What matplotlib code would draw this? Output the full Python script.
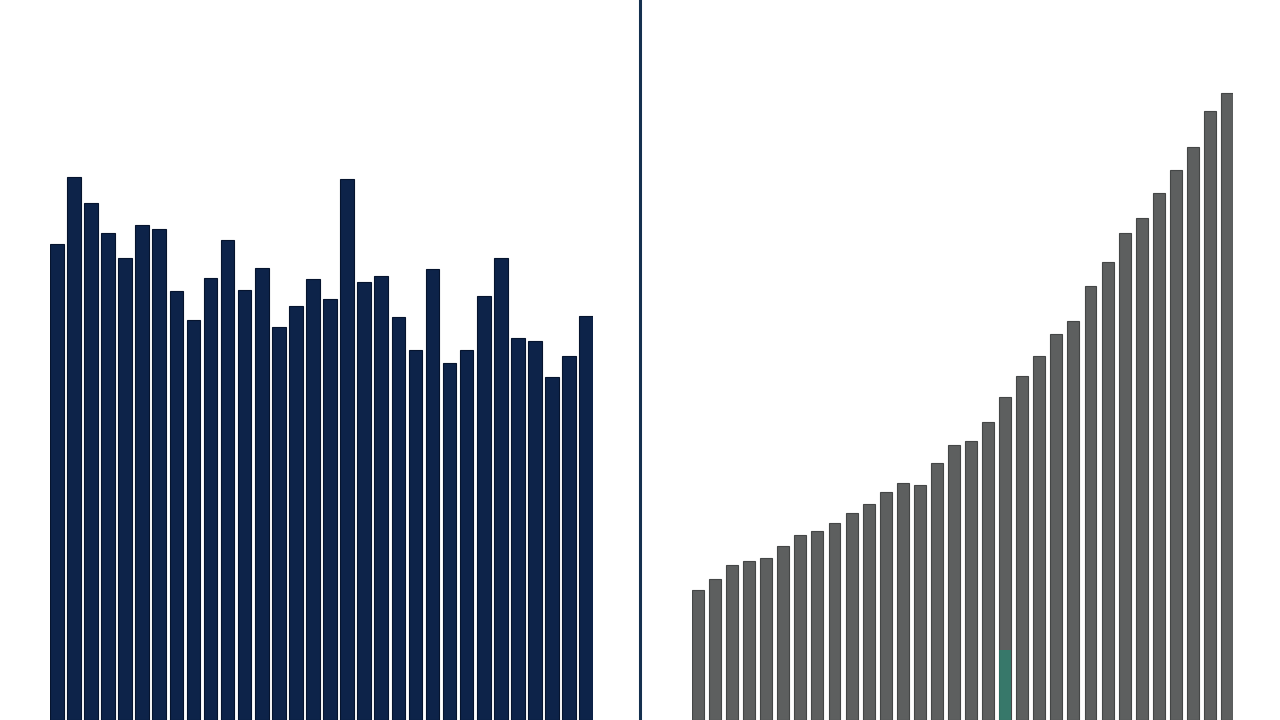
import numpy as np
import matplotlib.pyplot as plt
from matplotlib.lines import Line2D

# bar heights (pixel units above the bottom edge)
left_values = [476, 543, 517, 487, 462, 495, 491, 429, 400, 442, 480, 430,
               452, 393, 414, 441, 421, 541, 438, 444, 403, 370, 451, 357,
               370, 424, 462, 382, 379, 343, 364, 404]
right_values = [130, 141, 155, 159, 162, 174, 185, 189, 197, 207, 216, 228,
                237, 235, 257, 275, 279, 298, 323, 344, 364, 386, 399, 434,
                458, 487, 502, 527, 550, 573, 609, 627]
# faint teal patch at the foot of one grey bar
highlight_index = 18
highlight_value = 70

NAVY = '#0d2349'
GREY = '#5d5f5f'

W, H = 1280, 720
fig = plt.figure(figsize=(12.8, 7.2), dpi=100)
fig.patch.set_facecolor('white')

# left panel
ax_l = fig.add_axes([50 / W, 0, (593 - 50) / W, 1])
x_l = np.arange(len(left_values))
ax_l.bar(x_l, left_values, width=0.8, color=NAVY, edgecolor='#06142e', linewidth=0.8)
ax_l.set_xlim(-0.4, len(left_values) - 0.6)
ax_l.set_ylim(0, H)
ax_l.axis('off')

# right panel
ax_r = fig.add_axes([692 / W, 0, (1233 - 692) / W, 1])
x_r = np.arange(len(right_values))
ax_r.bar(x_r, right_values, width=0.7, color=GREY, edgecolor='#444646', linewidth=0.8)
ax_r.bar(x_r[highlight_index], highlight_value, width=0.7, color='#1f8a72', alpha=0.6, linewidth=0)
ax_r.set_xlim(-0.35, len(right_values) - 0.65)
ax_r.set_ylim(0, H)
ax_r.axis('off')

# divider
fig.add_artist(Line2D([640 / W, 640 / W], [0, 1], color='#14304f', linewidth=2.2))

fig.savefig('out.png', dpi=100, facecolor='white')
